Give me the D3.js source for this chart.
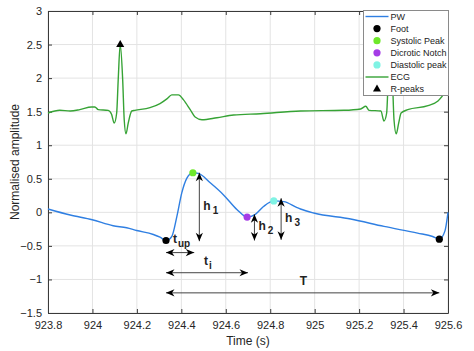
<!DOCTYPE html>
<html>
<head>
<meta charset="utf-8">
<script src="https://cdn.jsdelivr.net/npm/d3@7"></script>
<style>
  body { margin: 0; background: #fff; }
  svg { font-family: Arial, "Liberation Sans", sans-serif; }
</style>
</head>
<body>
<div id="chart"></div>
<script>
// PW trace (time in s, normalised amplitude)
const pwTime = [923.8, 923.9, 923.999, 924.093, 924.154, 924.199, 924.274, 924.304, 924.331, 924.357, 924.380, 924.402, 924.425, 924.452, 924.477, 924.530, 924.590, 924.651, 924.696, 924.733, 924.771, 924.816, 924.861, 924.921, 924.936, 924.996, 925.162, 925.312, 925.463, 925.531, 925.561, 925.586, 925.6];
const pwValue = [0.05, -0.04, -0.11, -0.20, -0.23, -0.27, -0.33, -0.37, -0.42, -0.36, -0.06, 0.29, 0.51, 0.59, 0.58, 0.44, 0.26, 0.04, -0.07, -0.03, 0.09, 0.17, 0.16, 0.07, 0.05, -0.01, -0.10, -0.21, -0.31, -0.36, -0.40, -0.28, 0.0];

// ECG trace
const ecgTime = [923.8, 923.853, 923.9, 923.943, 923.996, 924.011, 924.026, 924.071, 924.086, 924.098, 924.109, 924.116, 924.125, 924.136, 924.143, 924.151, 924.161, 924.177, 924.191, 924.259, 924.304, 924.335, 924.357, 924.387, 924.409, 924.440, 924.462, 924.493, 924.560, 924.635, 924.756, 924.936, 925.132, 925.207, 925.230, 925.245, 925.298, 925.312, 925.324, 925.331, 925.340, 925.350, 925.357, 925.367, 925.378, 925.389, 925.419, 925.510, 925.555, 925.6];
const ecgValue = [1.48, 1.52, 1.51, 1.53, 1.57, 1.57, 1.53, 1.52, 1.46, 1.33, 1.48, 1.98, 2.50, 1.98, 1.38, 1.17, 1.33, 1.51, 1.52, 1.56, 1.62, 1.69, 1.75, 1.75, 1.68, 1.53, 1.42, 1.38, 1.41, 1.45, 1.47, 1.51, 1.52, 1.54, 1.58, 1.52, 1.51, 1.36, 1.48, 1.98, 2.45, 1.98, 1.38, 1.17, 1.33, 1.48, 1.53, 1.59, 1.66, 1.85];

// Fiducial points
const footTime = [924.331, 925.561];
const footValue = [-0.42, -0.40];
const systolicTime = [924.452];
const systolicValue = [0.59];
const notchTime = [924.696];
const notchValue = [-0.07];
const diastolicTime = [924.816];
const diastolicValue = [0.17];
const rPeakTime = [924.125, 925.340];
const rPeakValue = [2.50, 2.45];

// Vertical height arrows: time, top, bottom, label, subscript
const hArrowTime = [924.481, 924.729, 924.849];
const hArrowTop = [0.59, -0.03, 0.21];
const hArrowBottom = [-0.43, -0.42, -0.41];
const hLabelSub = ['1', '2', '3'];

// Horizontal time arrows: start, end, level, label, subscript
const tArrowStart = [924.331, 924.331, 924.331];
const tArrowEnd = [924.458, 924.700, 925.561];
const tArrowLevel = [-0.6, -0.9, -1.2];
const tLabelMain = ['t', 't', 'T'];
const tLabelSub = ['up', 'i', ''];

// Axis ticks and legend
const xTicks = [923.8, 924, 924.2, 924.4, 924.6, 924.8, 925, 925.2, 925.4, 925.6];
const yTicks = [-1.5, -1, -0.5, 0, 0.5, 1, 1.5, 2, 2.5, 3];
const legendLabels = ['PW', 'Foot', 'Systolic Peak', 'Dicrotic Notch', 'Diastolic peak', 'ECG', 'R-peaks'];

const colors = {
  pw: '#2f7fe2',
  ecg: '#36a335',
  foot: '#000000',
  systolic: '#6ee82a',
  notch: '#a53ce6',
  diastolic: '#80f3e4'
};

const width = 474;
const height = 351;
const margin = { top: 11, right: 26, bottom: 38, left: 48 };

const svg = d3
  .select('#chart')
  .append('svg')
  .attr('width', width)
  .attr('height', height);

const x = d3
  .scaleLinear()
  .domain([923.8, 925.6])
  .range([margin.left, width - margin.right]);

const y = d3
  .scaleLinear()
  .domain([-1.5, 3])
  .range([height - margin.bottom, margin.top]);

const x0 = margin.left;
const x1 = width - margin.right;
const y0 = height - margin.bottom;
const y1 = margin.top;

// Grid
svg
  .append('g')
  .selectAll('line')
  .data(xTicks)
  .join('line')
  .attr('x1', (d) => x(d))
  .attr('x2', (d) => x(d))
  .attr('y1', y0)
  .attr('y2', y1)
  .attr('stroke', '#e3e3e3');
svg
  .append('g')
  .selectAll('line')
  .data(yTicks)
  .join('line')
  .attr('y1', (d) => y(d))
  .attr('y2', (d) => y(d))
  .attr('x1', x0)
  .attr('x2', x1)
  .attr('stroke', '#e3e3e3');

// Axes (MATLAB style: ticks inward, box on)
const axisColor = '#3a3a3a';
const styleAxis = (g) => {
  g.select('.domain').attr('stroke', axisColor);
  g.selectAll('.tick line').attr('stroke', axisColor);
  g.selectAll('.tick text').attr('fill', '#262626').attr('font-size', 11);
};

svg
  .append('g')
  .attr('transform', `translate(0,${y0})`)
  .call(d3.axisBottom(x).tickValues(xTicks).tickFormat(d3.format('')).tickSizeInner(-4).tickSizeOuter(0).tickPadding(8))
  .call(styleAxis);
svg
  .append('g')
  .attr('transform', `translate(0,${y1})`)
  .call(d3.axisTop(x).tickValues(xTicks).tickFormat('').tickSizeInner(-4).tickSizeOuter(0))
  .call(styleAxis);
svg
  .append('g')
  .attr('transform', `translate(${x0},0)`)
  .call(d3.axisLeft(y).tickValues(yTicks).tickFormat(d3.format('')).tickSizeInner(-4).tickSizeOuter(0).tickPadding(6))
  .call(styleAxis);
svg
  .append('g')
  .attr('transform', `translate(${x1},0)`)
  .call(d3.axisRight(y).tickValues(yTicks).tickFormat('').tickSizeInner(-4).tickSizeOuter(0))
  .call(styleAxis);

// Axis labels
svg
  .append('text')
  .attr('x', (x0 + x1) / 2)
  .attr('y', 345)
  .attr('text-anchor', 'middle')
  .attr('font-size', 12)
  .attr('fill', '#262626')
  .text('Time (s)');
svg
  .append('text')
  .attr('transform', `translate(19,${(y0 + y1) / 2}) rotate(-90)`)
  .attr('text-anchor', 'middle')
  .attr('font-size', 12)
  .attr('fill', '#262626')
  .text('Normalised amplitude');

// Traces
const pwData = pwTime.map((t, i) => ({ t, v: pwValue[i] }));
const ecgData = ecgTime.map((t, i) => ({ t, v: ecgValue[i] }));

svg
  .append('path')
  .datum(ecgData)
  .attr('fill', 'none')
  .attr('stroke', colors.ecg)
  .attr('stroke-width', 1.4)
  .attr('d', d3.line().x((d) => x(d.t)).y((d) => y(d.v)).curve(d3.curveMonotoneX));

svg
  .append('path')
  .datum(pwData)
  .attr('fill', 'none')
  .attr('stroke', colors.pw)
  .attr('stroke-width', 1.4)
  .attr('d', d3.line().x((d) => x(d.t)).y((d) => y(d.v)).curve(d3.curveMonotoneX));

// Fiducial markers
const drawDots = (ts, vs, color) => {
  svg
    .append('g')
    .selectAll('circle')
    .data(ts.map((t, i) => ({ t, v: vs[i] })))
    .join('circle')
    .attr('cx', (d) => x(d.t))
    .attr('cy', (d) => y(d.v))
    .attr('r', 3.6)
    .attr('fill', color);
};
drawDots(footTime, footValue, colors.foot);
drawDots(systolicTime, systolicValue, colors.systolic);
drawDots(notchTime, notchValue, colors.notch);
drawDots(diastolicTime, diastolicValue, colors.diastolic);

const triangle = d3.symbol().type(d3.symbolTriangle).size(28);
svg
  .append('g')
  .selectAll('path')
  .data(rPeakTime.map((t, i) => ({ t, v: rPeakValue[i] })))
  .join('path')
  .attr('transform', (d) => `translate(${x(d.t)},${y(d.v)})`)
  .attr('d', triangle)
  .attr('fill', '#000');

// Arrow head marker
const defs = svg.append('defs');
defs
  .append('marker')
  .attr('id', 'head')
  .attr('viewBox', '-10 -5 12 10')
  .attr('refX', 0)
  .attr('refY', 0)
  .attr('markerWidth', 12)
  .attr('markerHeight', 10)
  .attr('markerUnits', 'userSpaceOnUse')
  .attr('orient', 'auto-start-reverse')
  .append('path')
  .attr('d', 'M0,0 L-8.5,-3.6 L-6,0 L-8.5,3.6 Z')
  .attr('fill', '#000');

const annot = svg.append('g').attr('class', 'annotations');

// Height arrows
annot
  .selectAll('.h-arrow')
  .data(hArrowTime.map((t, i) => ({ t, top: hArrowTop[i], bottom: hArrowBottom[i], sub: hLabelSub[i] })))
  .join('line')
  .attr('class', 'h-arrow')
  .attr('x1', (d) => x(d.t))
  .attr('x2', (d) => x(d.t))
  .attr('y1', (d) => y(d.top))
  .attr('y2', (d) => y(d.bottom))
  .attr('stroke', '#444')
  .attr('stroke-width', 1)
  .attr('marker-start', 'url(#head)')
  .attr('marker-end', 'url(#head)');

annot
  .selectAll('.h-label')
  .data(hArrowTime.map((t, i) => ({ t, top: hArrowTop[i], bottom: hArrowBottom[i], sub: hLabelSub[i] })))
  .join('text')
  .attr('class', 'h-label')
  .attr('x', (d) => x(d.t) + 4)
  .attr('y', (d) => y((d.top + d.bottom) / 2) + 3)
  .attr('font-size', 12)
  .attr('font-weight', 'bold')
  .attr('fill', '#222')
  .each(function (d) {
    const t = d3.select(this);
    t.append('tspan').text('h');
    t.append('tspan').attr('dx', 2).attr('dy', 4).attr('font-size', 10).text(d.sub);
  });

// Time arrows
const tData = tArrowStart.map((s, i) => ({
  s,
  e: tArrowEnd[i],
  v: tArrowLevel[i],
  main: tLabelMain[i],
  sub: tLabelSub[i]
}));

annot
  .selectAll('.t-arrow')
  .data(tData)
  .join('line')
  .attr('class', 't-arrow')
  .attr('x1', (d) => x(d.s))
  .attr('x2', (d) => x(d.e))
  .attr('y1', (d) => y(d.v))
  .attr('y2', (d) => y(d.v))
  .attr('stroke', '#444')
  .attr('stroke-width', 1)
  .attr('marker-start', 'url(#head)')
  .attr('marker-end', 'url(#head)');

annot
  .selectAll('.t-label')
  .data(tData)
  .join('text')
  .attr('class', 't-label')
  .attr('x', (d, i) => (i === 0 ? x(d.s) + 7 : (x(d.s) + x(d.e)) / 2 - 3))
  .attr('y', (d, i) => (i === 0 ? y(d.v) - 10 : y(d.v) - 8))
  .attr('font-size', 12)
  .attr('font-weight', 'bold')
  .attr('fill', '#222')
  .each(function (d) {
    const t = d3.select(this);
    t.append('tspan').text(d.main);
    if (d.sub) t.append('tspan').attr('dx', 1).attr('dy', 4).attr('font-size', 10).text(d.sub);
  });

// Legend
const legend = svg.append('g').attr('transform', 'translate(363.5,10.5)');
legend
  .append('rect')
  .attr('width', 85)
  .attr('height', 85)
  .attr('fill', '#fff')
  .attr('stroke', '#8a8a8a');

const legendItems = legend
  .selectAll('.legend-item')
  .data(legendLabels)
  .join('g')
  .attr('class', 'legend-item')
  .attr('transform', (d, i) => `translate(0,${6 + i * 12.1})`);

legendItems
  .append('text')
  .attr('x', 27)
  .attr('y', 3.3)
  .attr('font-size', 9)
  .attr('fill', '#222')
  .text((d) => d);

legendItems.each(function (d, i) {
  const g = d3.select(this);
  if (i === 0 || i === 5) {
    g.append('line')
      .attr('x1', 2)
      .attr('x2', 25)
      .attr('stroke', i === 0 ? colors.pw : colors.ecg)
      .attr('stroke-width', 1.4);
  } else if (i === 6) {
    g.append('path').attr('transform', 'translate(13.5,0)').attr('d', triangle).attr('fill', '#000');
  } else {
    const c = [null, colors.foot, colors.systolic, colors.notch, colors.diastolic][i];
    g.append('circle').attr('cx', 13.5).attr('r', 3.6).attr('fill', c);
  }
});
</script>
</body>
</html>
